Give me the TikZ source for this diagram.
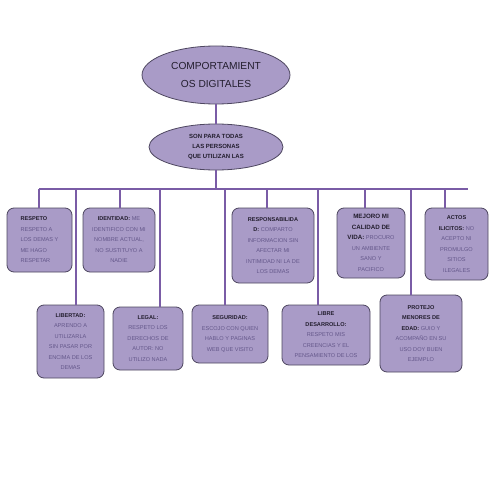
\documentclass[tikz,border=0pt]{standalone}
\usepackage{fontspec}
\setmainfont{Liberation Sans}
\usetikzlibrary{shapes.geometric}
\definecolor{boxfill}{HTML}{A99BC7}
\definecolor{boxline}{HTML}{4E4760}
\definecolor{conncol}{HTML}{7A5CA6}
\definecolor{bodytxt}{HTML}{64578A}
\definecolor{headtxt}{HTML}{231E2E}
\tikzset{
  conn/.style={draw=conncol, line width=2.2pt},
  ovalbox/.style={ellipse, draw=boxline, line width=0.8pt, fill=boxfill, inner sep=0pt, align=center, text=headtxt},
  cardbox/.style={draw=boxline, line width=0.8pt, fill=boxfill, rounded corners=7pt, inner sep=2pt, align=center,
    text=bodytxt, font=\fontsize{5.6}{10.5}\selectfont},
}
\newcommand{\hdt}[1]{{\color{headtxt}\bfseries #1}}
\begin{document}
\begin{tikzpicture}[x=1pt,y=-1pt]
\useasboundingbox[fill=white] (0,0) rectangle (495,495);

\node[ovalbox, minimum width=148, minimum height=58, font=\fontsize{10.2}{18}\selectfont] (top) at (216,75)
  {COMPORTAMIENT\\OS DIGITALES};
\node[ovalbox, minimum width=134, minimum height=46, font=\bfseries\fontsize{6}{10}\selectfont] (sub) at (216,147)
  {SON PARA TODAS\\LAS PERSONAS\\QUE UTILIZAN LAS};

\node[cardbox, minimum width=65, minimum height=64, align=left] (respeto) at (39.5,240)
  {\hdt{RESPETO}\\RESPETO A\\LOS DEMAS Y\\ME HAGO\\RESPETAR};
\node[cardbox, minimum width=72, minimum height=64] (identidad) at (119,240)
  {\hdt{IDENTIDAD:} ME\\IDENTIFICO CON MI\\NOMBRE ACTUAL,\\NO SUSTITUYO A\\NADIE};
\node[cardbox, minimum width=82, minimum height=75] (respons) at (273,245.5)
  {\hdt{RESPONSABILIDA}\\\hdt{D:} COMPARTO\\INFORMACION SIN\\AFECTAR MI\\INTIMIDAD NI LA DE\\LOS DEMAS};
\node[cardbox, minimum width=68, minimum height=70] (mejoro) at (371,243)
  {\hdt{\fontsize{6.2}{10.5}\selectfont MEJORO MI}\\\hdt{\fontsize{6.2}{10.5}\selectfont CALIDAD DE}\\\hdt{\fontsize{6.2}{10.5}\selectfont VIDA:} PROCURO\\UN AMBIENTE\\SANO Y\\PACIFICO};
\node[cardbox, minimum width=63, minimum height=72] (actos) at (456.5,244)
  {\hdt{ACTOS}\\\hdt{ILICITOS:} NO\\ACEPTO NI\\PROMULGO\\SITIOS\\ILEGALES};

\node[cardbox, minimum width=67, minimum height=73] (libertad) at (70.5,341.5)
  {\hdt{LIBERTAD:}\\APRENDO A\\UTILIZARLA\\SIN PASAR POR\\ENCIMA DE LOS\\DEMAS};
\node[cardbox, minimum width=70, minimum height=63] (legal) at (148,338.5)
  {\hdt{LEGAL:}\\RESPETO LOS\\DERECHOS DE\\AUTOR: NO\\UTILIZO NADA};
\node[cardbox, minimum width=76, minimum height=58] (seguridad) at (230,334)
  {\hdt{SEGURIDAD:}\\ESCOJO CON QUIEN\\HABLO Y PAGINAS\\WEB QUE VISITO};
\node[cardbox, minimum width=88, minimum height=60] (libre) at (326,335)
  {\hdt{LIBRE}\\\hdt{DESARROLLO:}\\RESPETO MIS\\CREENCIAS Y EL\\PENSAMIENTO DE LOS};
\node[cardbox, minimum width=82, minimum height=77] (protejo) at (421,333.5)
  {\hdt{PROTEJO}\\\hdt{MENORES DE}\\\hdt{EDAD:} GUIO Y\\ACOMPAÑO EN SU\\USO DOY BUEN\\EJEMPLO};

\coordinate (bus) at (216,189);
\coordinate (busL) at (39,189);
\coordinate (busR) at (468,189);
\coordinate (d1) at (39,189);
\coordinate (d2) at (76,189);
\coordinate (d3) at (120,189);
\coordinate (d4) at (160,189);
\coordinate (d5) at (225,189);
\coordinate (d6) at (267,189);
\coordinate (d7) at (318,189);
\coordinate (d8) at (365,189);
\coordinate (d9) at (411,189);
\coordinate (d10) at (445,189);

\draw[conn] (top.south) -- (sub.north);
\draw[conn] (sub.south) -- (bus);
\draw[conn] (busL) -- (busR);
\draw[conn] (d1) -- (d1 |- respeto.north);
\draw[conn] (d2) -- (d2 |- libertad.north);
\draw[conn] (d3) -- (d3 |- identidad.north);
\draw[conn] (d4) -- (d4 |- legal.north);
\draw[conn] (d5) -- (d5 |- seguridad.north);
\draw[conn] (d6) -- (d6 |- respons.north);
\draw[conn] (d7) -- (d7 |- libre.north);
\draw[conn] (d8) -- (d8 |- mejoro.north);
\draw[conn] (d9) -- (d9 |- protejo.north);
\draw[conn] (d10) -- (d10 |- actos.north);
\end{tikzpicture}
\end{document}
